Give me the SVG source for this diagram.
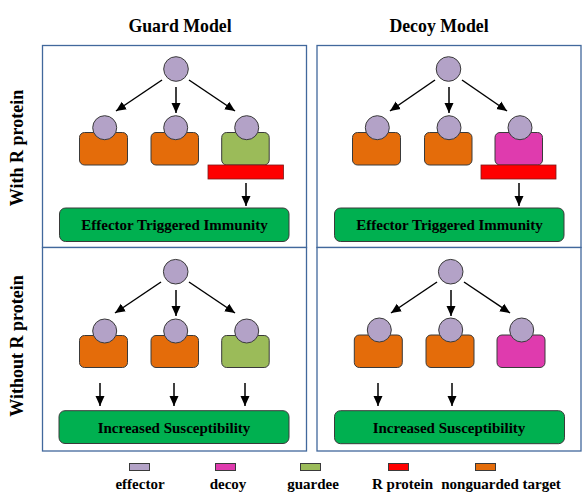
<svg xmlns="http://www.w3.org/2000/svg" width="586" height="497" viewBox="0 0 586 497">
<style>
text{font-family:"Liberation Serif","Times New Roman",serif;font-weight:bold;fill:#000}
.title{font-size:17.8px;text-anchor:middle}
.side{font-size:18px;text-anchor:middle}
.box{font-size:15px;text-anchor:middle}
.leg{font-size:15px;text-anchor:middle}
.panel{fill:#fff;stroke:#41689C;stroke-width:1.3}
.eff{fill:#B3A2C7;stroke:#3a3a3a;stroke-width:1}
.tgt{fill:#E46C0A;stroke:#3a3a3a;stroke-width:1}
.grd{fill:#9BBB59;stroke:#3a3a3a;stroke-width:1}
.dec{fill:#DF3BAE;stroke:#3a3a3a;stroke-width:1}
.rp{fill:#FF0000;stroke:#7a1a1a;stroke-width:0.8}
.res{fill:#00B050;stroke:#3a3a3a;stroke-width:1}
.arr{stroke:#000;stroke-width:1.5;fill:none;marker-end:url(#ah)}
.sw{stroke:#3a3a3a;stroke-width:1}
</style>
<defs>
<marker id="ah" markerUnits="userSpaceOnUse" markerWidth="11" markerHeight="10" refX="10" refY="5" orient="auto">
<path d="M0,0.5 L10,5 L0,9.5 z" fill="#000"/>
</marker>
</defs>
<rect x="0" y="0" width="586" height="497" fill="#fff"/>

<g id="titles">
<text class="title" x="180" y="31.5">Guard Model</text>
<text class="title" x="439" y="31.5">Decoy Model</text>
<text class="side" transform="translate(23,148) rotate(-90)">With R protein</text>
<text class="side" transform="translate(23,346) rotate(-90)">Without R protein</text>
</g>

<g id="panels">
<rect class="panel" x="42.5" y="45.5" width="264" height="202"/>
<rect class="panel" x="317" y="45.5" width="264" height="202"/>
<rect class="panel" x="42.5" y="247.5" width="264" height="203.5"/>
<rect class="panel" x="317" y="247.5" width="264" height="203.5"/>
</g>

<g id="connectors">
<line class="arr" x1="162" y1="80" x2="116" y2="111"/>
<line class="arr" x1="176" y1="87" x2="176" y2="113"/>
<line class="arr" x1="189" y1="80" x2="235" y2="111"/>
<line class="arr" x1="246" y1="183" x2="246" y2="206"/>
<line class="arr" x1="435" y1="80" x2="390" y2="111"/>
<line class="arr" x1="449" y1="87" x2="449" y2="113"/>
<line class="arr" x1="462" y1="80" x2="507" y2="111"/>
<line class="arr" x1="519" y1="183" x2="519" y2="206"/>
<line class="arr" x1="161" y1="282" x2="115" y2="313"/>
<line class="arr" x1="176" y1="290" x2="176" y2="316"/>
<line class="arr" x1="189" y1="282" x2="235" y2="313"/>
<line class="arr" x1="100" y1="383" x2="100" y2="406"/>
<line class="arr" x1="174" y1="383" x2="174" y2="406"/>
<line class="arr" x1="245" y1="383" x2="245" y2="406"/>
<line class="arr" x1="437" y1="282" x2="391" y2="313"/>
<line class="arr" x1="451" y1="290" x2="451" y2="316"/>
<line class="arr" x1="464" y1="282" x2="510" y2="313"/>
<line class="arr" x1="378" y1="383" x2="378" y2="406"/>
<line class="arr" x1="452" y1="383" x2="452" y2="406"/>
</g>

<g id="guard-with">
<circle class="eff" cx="176" cy="69" r="12.3"/>
<rect class="tgt" x="79.5" y="132.5" width="48" height="32.5" rx="5"/>
<circle class="eff" cx="104.7" cy="127.7" r="12"/>
<rect class="tgt" x="151" y="132.5" width="47.5" height="32.5" rx="5"/>
<circle class="eff" cx="175.7" cy="127.7" r="12"/>
<rect class="grd" x="221.7" y="132.5" width="47.5" height="32.5" rx="5"/>
<circle class="eff" cx="246.7" cy="127.7" r="12"/>
<rect class="rp" x="208" y="165" width="75.5" height="14"/>
<rect class="res" x="59.5" y="208" width="229.5" height="33.5" rx="6"/>
<text class="box" x="174.5" y="230">Effector Triggered Immunity</text>
</g>

<g id="decoy-with">
<circle class="eff" cx="448.5" cy="69" r="12.3"/>
<rect class="tgt" x="352.5" y="132.5" width="48" height="32.5" rx="5"/>
<circle class="eff" cx="377.3" cy="127.7" r="12"/>
<rect class="tgt" x="424.5" y="132.5" width="47.5" height="32.5" rx="5"/>
<circle class="eff" cx="449" cy="127.7" r="12"/>
<rect class="dec" x="495" y="132.5" width="47.5" height="32.5" rx="5"/>
<circle class="eff" cx="520" cy="127.7" r="12"/>
<rect class="rp" x="481" y="165" width="75" height="14"/>
<rect class="res" x="334.5" y="208" width="229.5" height="33.5" rx="6"/>
<text class="box" x="449.5" y="230">Effector Triggered Immunity</text>
</g>

<g id="guard-without">
<circle class="eff" cx="175.7" cy="271.7" r="12.3"/>
<rect class="tgt" x="79.5" y="335.5" width="48" height="32" rx="5"/>
<circle class="eff" cx="104.7" cy="331" r="12"/>
<rect class="tgt" x="151" y="335.5" width="47.5" height="32" rx="5"/>
<circle class="eff" cx="175.7" cy="331" r="12"/>
<rect class="grd" x="221.7" y="335.5" width="47.5" height="32" rx="5"/>
<circle class="eff" cx="246.7" cy="331" r="12"/>
<rect class="res" x="59" y="410.7" width="230" height="32.8" rx="6"/>
<text class="box" x="174" y="432.5">Increased Susceptibility</text>
</g>

<g id="decoy-without">
<circle class="eff" cx="450.7" cy="271.7" r="12.3"/>
<rect class="tgt" x="354.3" y="335" width="48" height="32.5" rx="5"/>
<circle class="eff" cx="379.3" cy="330" r="12"/>
<rect class="tgt" x="426" y="335" width="48" height="32.5" rx="5"/>
<circle class="eff" cx="450.7" cy="330" r="12"/>
<rect class="dec" x="497" y="335" width="48" height="32.5" rx="5"/>
<circle class="eff" cx="521.7" cy="330" r="12"/>
<rect class="res" x="334.5" y="410.7" width="230" height="33" rx="6"/>
<text class="box" x="449" y="432.5">Increased Susceptibility</text>
</g>

<g id="legend">
<rect class="sw" x="129.5" y="463.5" width="20" height="7" fill="#B3A2C7"/>
<rect class="sw" x="215.5" y="463.5" width="20" height="7" fill="#DF3BAE"/>
<rect class="sw" x="300.5" y="463.5" width="20" height="7" fill="#9BBB59"/>
<rect class="sw" x="388.5" y="463.5" width="20" height="7" fill="#FF0000"/>
<rect class="sw" x="475.5" y="463.5" width="20" height="7" fill="#E46C0A"/>
<text class="leg" x="140" y="488.5">effector</text>
<text class="leg" x="228" y="488.5">decoy</text>
<text class="leg" x="313" y="488.5">guardee</text>
<text class="leg" x="402.5" y="488.5">R protein</text>
<text class="leg" x="501" y="488.5">nonguarded target</text>
</g>
</svg>
